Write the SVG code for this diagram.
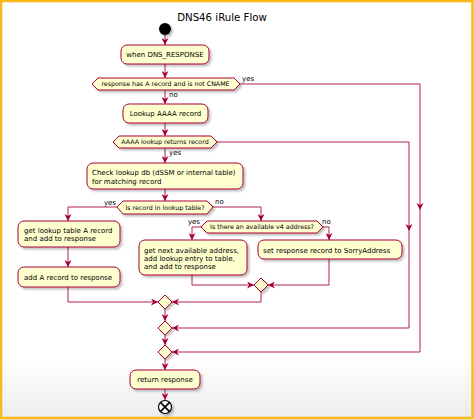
<svg xmlns="http://www.w3.org/2000/svg" width="474" height="420" viewBox="0 0 474 420">
<defs>
<linearGradient id="bg" x1="0" y1="0" x2="0" y2="1">
<stop offset="0.85" stop-color="#ffffff"/>
<stop offset="1" stop-color="#ececec"/>
</linearGradient>
<filter id="sh" x="-20%" y="-20%" width="150%" height="160%">
<feDropShadow dx="2" dy="2" stdDeviation="1.2" flood-color="#000" flood-opacity="0.25"/>
</filter>
<marker id="ah" viewBox="0 0 10 10" refX="10" refY="5" markerWidth="7" markerHeight="7" orient="auto" markerUnits="userSpaceOnUse">
<path d="M0,0 L10,5 L0,10 L3,5 Z" fill="#A80036"/>
</marker>
<style>
.box{fill:#FEFECE;stroke:#A80036;stroke-width:1;filter:url(#sh)}
.ln{fill:none;stroke:#B0224E;stroke-width:1}
.t{font-family:"DejaVu Sans",Verdana,sans-serif;font-size:7px;fill:#000}
.h{font-size:6.3px}
.c{text-anchor:middle}
.e{text-anchor:end}
.ma{fill:#A80036}
</style>
</defs>
<rect x="0" y="0" width="474" height="420" fill="url(#bg)"/>
<rect x="1" y="1" width="471.5" height="417" fill="none" stroke="#F9B916" stroke-width="2.5"/>
<text x="222" y="21" class="t c" style="font-size:10.2px">DNS46 iRule Flow</text>

<g id="connectors">
<path class="ln" d="M165,35 V45" marker-end="url(#ah)"/>
<path class="ln" d="M165,64 V78" marker-end="url(#ah)"/>
<path class="ln" d="M165,90 V104" marker-end="url(#ah)"/>
<path class="ln" d="M165,123 V136" marker-end="url(#ah)"/>
<path class="ln" d="M165,148 V163" marker-end="url(#ah)"/>
<path class="ln" d="M165,189 V201" marker-end="url(#ah)"/>
<path class="ln" d="M117,207 H68 V221" marker-end="url(#ah)"/>
<path class="ln" d="M68,247 V267" marker-end="url(#ah)"/>
<path class="ln" d="M68,287 V302 H158" marker-end="url(#ah)"/>
<path class="ln" d="M213,207 H261 V221" marker-end="url(#ah)"/>
<path class="ln" d="M201,227 H192 V240" marker-end="url(#ah)"/>
<path class="ln" d="M323,227 H329 V240" marker-end="url(#ah)"/>
<path class="ln" d="M192,275 V285 H254" marker-end="url(#ah)"/>
<path class="ln" d="M329,259 V285 H268" marker-end="url(#ah)"/>
<path class="ln" d="M261,292 V302 H172" marker-end="url(#ah)"/>
<path class="ln" d="M165,309 V321" marker-end="url(#ah)"/>
<path class="ln" d="M217,142 H409 V328 H172" marker-end="url(#ah)"/>
<path class="ln" d="M240,84 H420 V352 H172" marker-end="url(#ah)"/>
<path class="ln" d="M165,335 V345" marker-end="url(#ah)"/>
<path class="ln" d="M165,359 V370" marker-end="url(#ah)"/>
<path class="ln" d="M165,389 V400" marker-end="url(#ah)"/>
<path class="ma" d="M405.5,224 L409,231 L412.5,224 L409,226 Z"/>
<path class="ma" d="M416.5,203 L420,210 L423.5,203 L420,205 Z"/>
<text x="169" y="97" class="t">no</text>
<text x="169" y="155" class="t">yes</text>
<text x="242" y="81" class="t">yes</text>
<text x="116" y="205" class="t e">yes</text>
<text x="215" y="204" class="t">no</text>
<text x="200" y="224" class="t e">yes</text>
<text x="322" y="224" class="t">no</text>
</g>

<g id="start"><circle cx="165" cy="29" r="6" fill="#000" filter="url(#sh)"/></g>

<g id="when_dns_response">
<rect class="box" x="121" y="45" width="88" height="19" rx="6"/>
<text x="165" y="57" class="t c">when DNS_RESPONSE</text>
</g>

<g id="check_a_record">
<polygon class="box" points="92,84 98,78 234,78 240,84 234,90 98,90"/>
<text x="165.5" y="86.3" class="t h c">response has A record and is not CNAME</text>
</g>

<g id="lookup_aaaa">
<rect class="box" x="123" y="104" width="85" height="19" rx="6"/>
<text x="165.5" y="116" class="t c">Lookup AAAA record</text>
</g>

<g id="aaaa_returns">
<polygon class="box" points="113,142 119,136 211,136 217,142 211,148 119,148"/>
<text x="165" y="144.3" class="t h c">AAAA lookup returns record</text>
</g>

<g id="check_db">
<rect class="box" x="87" y="163" width="156" height="26" rx="6"/>
<text x="92" y="175" class="t">Check lookup db (dSSM or internal table)</text>
<text x="92" y="183.5" class="t">for matching record</text>
</g>

<g id="in_lookup_table">
<polygon class="box" points="117,207 123,201 207,201 213,207 207,214 123,214"/>
<text x="165" y="209.5" class="t h c">Is record in lookup table?</text>
</g>

<g id="get_lookup_a">
<rect class="box" x="18" y="221" width="102" height="26" rx="6"/>
<text x="24" y="232.5" class="t">get lookup table A record</text>
<text x="24" y="241" class="t">and add to response</text>
</g>

<g id="add_a_record">
<rect class="box" x="18" y="267" width="102" height="20" rx="6"/>
<text x="24" y="279.5" class="t">add A record to response</text>
</g>

<g id="available_v4">
<polygon class="box" points="201,227 207,221 317,221 323,227 317,233 207,233"/>
<text x="262" y="229.3" class="t h c">Is there an available v4 address?</text>
</g>

<g id="get_next_address">
<rect class="box" x="139" y="240" width="108" height="35" rx="6"/>
<text x="144" y="252.5" class="t">get next available address,</text>
<text x="144" y="260.5" class="t">add lookup entry to table,</text>
<text x="144" y="268.5" class="t">and add to response</text>
</g>

<g id="sorry_address">
<rect class="box" x="258" y="240" width="144" height="19" rx="6"/>
<text x="263" y="252.5" class="t">set response record to SorryAddress</text>
</g>

<g id="merge2"><polygon class="box" points="261,278 268,285 261,292 254,285"/></g>
<g id="merge1"><polygon class="box" points="165,295 172,302 165,309 158,302"/></g>
<g id="merge3"><polygon class="box" points="165,321 172,328 165,335 158,328"/></g>
<g id="merge4"><polygon class="box" points="165,345 172,352 165,359 158,352"/></g>

<g id="return_response">
<rect class="box" x="130" y="370" width="70" height="19" rx="6"/>
<text x="165" y="382" class="t c">return response</text>
</g>

<g id="end">
<circle cx="165" cy="407" r="6.5" fill="#fff" stroke="#000" stroke-width="1.2" filter="url(#sh)"/>
<path d="M160.4,402.4 L169.6,411.6 M169.6,402.4 L160.4,411.6" stroke="#000" stroke-width="1.6"/>
</g>
</svg>
